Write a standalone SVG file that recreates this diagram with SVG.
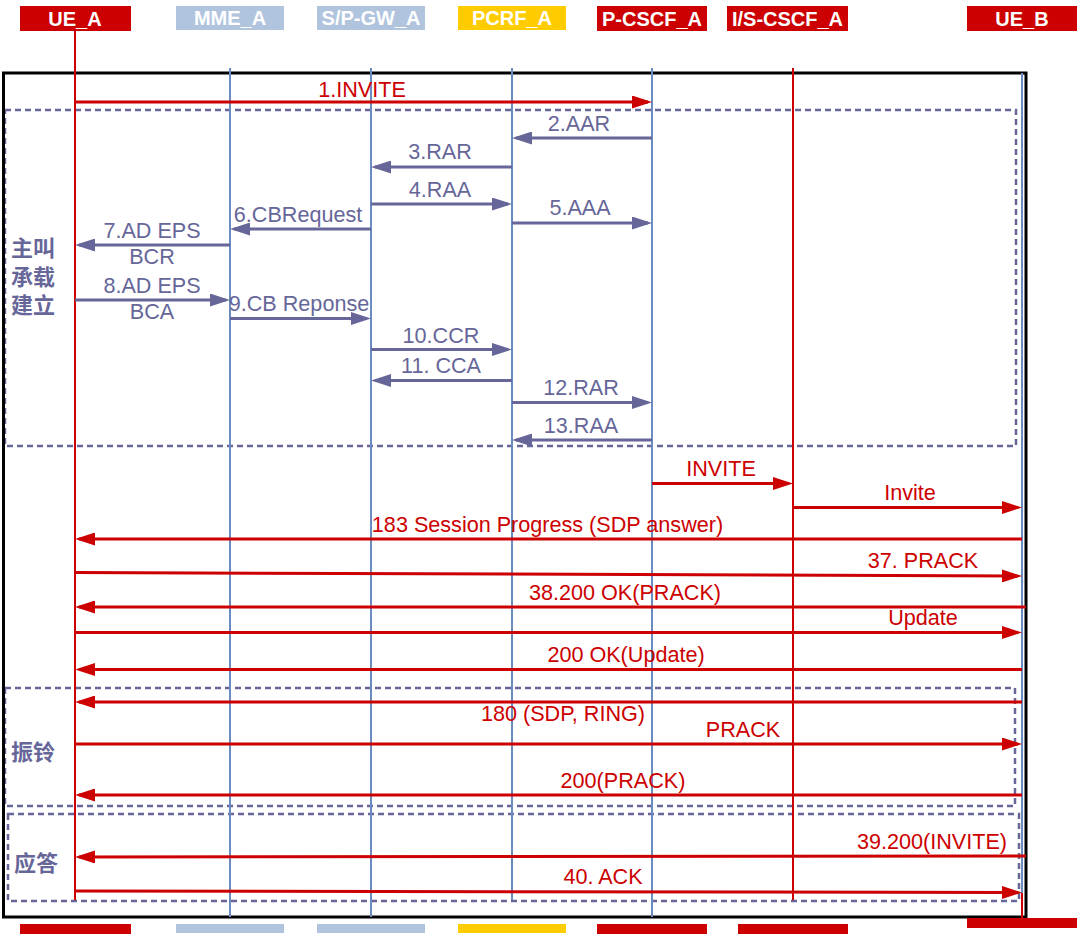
<svg xmlns="http://www.w3.org/2000/svg" width="1082" height="938" viewBox="0 0 1082 938">
<style>
.hdr{font-family:"Liberation Sans",Arial,sans-serif;font-size:20px;font-weight:bold;fill:#fff;text-anchor:middle}
.lbl{font-family:"Liberation Sans",Arial,sans-serif;font-size:21.6px;text-anchor:middle}
.r{fill:#CC0000}
.b{fill:#666699}
.cn{font-family:"Liberation Sans","Noto Sans CJK SC",sans-serif;font-size:22px;font-weight:bold;fill:#666699}
.ll{stroke:#6A8CC0;stroke-width:2;fill:none}
.llr{stroke:#CC0000;stroke-width:2;fill:none}
.ar{stroke:#CC0000;stroke-width:3;fill:none;marker-end:url(#ahR)}
.ab{stroke:#666699;stroke-width:3;fill:none;marker-end:url(#ahB)}
.dash{stroke:#666699;stroke-width:2.5;stroke-dasharray:6 4;fill:none}
</style>
<defs>
<marker id="ahR" markerUnits="userSpaceOnUse" markerWidth="20" markerHeight="13" refX="16" refY="6.5" orient="auto"><path d="M0,0 L20,6.5 L0,13 z" fill="#CC0000"/></marker>
<marker id="ahB" markerUnits="userSpaceOnUse" markerWidth="20" markerHeight="13" refX="16" refY="6.5" orient="auto"><path d="M0,0 L20,6.5 L0,13 z" fill="#666699"/></marker>
</defs>
<rect width="1082" height="938" fill="#fff"/>

<!-- phase boxes -->
<g id="phases">
<rect class="dash" x="5" y="110" width="1011" height="336"/>
<rect class="dash" x="5" y="688" width="1010" height="118"/>
<rect class="dash" x="8" y="814" width="1011" height="87"/>
</g>

<!-- frame -->
<rect x="3.5" y="73" width="1022.5" height="844" fill="none" stroke="#000" stroke-width="3"/>

<g id="node-ue-a">
<rect x="20" y="6" width="111" height="25" fill="#CC0000"/>
<text class="hdr" x="75" y="25.5">UE_A</text>
<line class="ll" x1="75" y1="68" x2="75" y2="95"/>
<line class="llr" x1="75" y1="31" x2="75" y2="900"/>
<rect x="20" y="924" width="111" height="10" fill="#CC0000"/>
</g>
<g id="node-mme-a">
<rect x="176" y="6" width="108" height="24" fill="#B0C4DE"/>
<text class="hdr" x="230" y="25">MME_A</text>
<line class="ll" x1="230" y1="68" x2="230" y2="917"/>
<rect x="176" y="924" width="108" height="9" fill="#B0C4DE"/>
</g>
<g id="node-spgw-a">
<rect x="317" y="6" width="108" height="24" fill="#B0C4DE"/>
<text class="hdr" x="371" y="25">S/P-GW_A</text>
<line class="ll" x1="371" y1="68" x2="371" y2="917"/>
<rect x="317" y="924" width="108" height="9" fill="#B0C4DE"/>
</g>
<g id="node-pcrf-a">
<rect x="458" y="6" width="108" height="24" fill="#FFCC00"/>
<text class="hdr" x="512" y="25">PCRF_A</text>
<line class="ll" x1="512" y1="68" x2="512" y2="900"/>
<rect x="458" y="924" width="108" height="9" fill="#FFCC00"/>
</g>
<g id="node-pcscf-a">
<rect x="597" y="6" width="110" height="25" fill="#CC0000"/>
<text class="hdr" x="652" y="25.5">P-CSCF_A</text>
<line class="ll" x1="652" y1="68" x2="652" y2="917"/>
<rect x="597" y="924" width="110" height="10" fill="#CC0000"/>
</g>
<g id="node-iscscf-a">
<rect x="727" y="6" width="121" height="25" fill="#CC0000"/>
<text class="hdr" x="787.5" y="25.5">I/S-CSCF_A</text>
<line class="llr" x1="793" y1="68" x2="793" y2="900"/>
<rect x="738" y="924" width="110" height="10" fill="#CC0000"/>
</g>
<g id="node-ue-b">
<rect x="967" y="6" width="110" height="25" fill="#CC0000"/>
<text class="hdr" x="1022" y="25.5">UE_B</text>
<line class="llr" x1="1022" y1="880" x2="1022" y2="918"/>
<line class="ll" x1="1022" y1="73" x2="1022" y2="893"/>
<rect x="967" y="918" width="110" height="10" fill="#CC0000"/>
</g>

<g id="phase-labels">
<text class="cn" x="11" y="256">主叫</text>
<text class="cn" x="11" y="285">承载</text>
<text class="cn" x="11" y="313">建立</text>
<text class="cn" x="11" y="760">振铃</text>
<text class="cn" x="14" y="871">应答</text>
</g>

<g id="connectors">
<line class="ar" x1="75" y1="102" x2="648" y2="102"/>
<line class="ab" x1="652" y1="138" x2="516" y2="138"/>
<line class="ab" x1="512" y1="167" x2="375" y2="167"/>
<line class="ab" x1="371" y1="204" x2="508" y2="204"/>
<line class="ab" x1="512" y1="223" x2="648" y2="223"/>
<line class="ab" x1="371" y1="229" x2="234" y2="229"/>
<line class="ab" x1="230" y1="245" x2="79" y2="245"/>
<line class="ab" x1="75" y1="300" x2="226" y2="300"/>
<line class="ab" x1="230" y1="318.5" x2="367" y2="318.5"/>
<line class="ab" x1="371" y1="349.5" x2="508" y2="349.5"/>
<line class="ab" x1="512" y1="380.5" x2="375" y2="380.5"/>
<line class="ab" x1="512" y1="402.5" x2="648" y2="402.5"/>
<line class="ab" x1="652" y1="440" x2="516" y2="440"/>
<line class="ar" x1="652" y1="483.5" x2="789" y2="483.5"/>
<line class="ar" x1="793" y1="507.5" x2="1018" y2="507.5"/>
<line class="ar" x1="1022" y1="539" x2="79" y2="539"/>
<line class="ar" x1="75" y1="572.5" x2="1018" y2="576"/>
<line class="ar" x1="1026" y1="607" x2="79" y2="607"/>
<line class="ar" x1="75" y1="632.5" x2="1018" y2="632.5"/>
<line class="ar" x1="1022" y1="669.5" x2="79" y2="669.5"/>
<line class="ar" x1="1022" y1="702" x2="79" y2="702"/>
<line class="ar" x1="75" y1="744" x2="1018" y2="744"/>
<line class="ar" x1="1022" y1="795" x2="79" y2="795"/>
<line class="ar" x1="1026" y1="856" x2="79" y2="857"/>
<line class="ar" x1="75" y1="891" x2="1018" y2="892.5"/>
</g>

<g id="labels">
<text class="lbl r" x="362" y="97">1.INVITE</text>
<text class="lbl b" x="579" y="131">2.AAR</text>
<text class="lbl b" x="440" y="159">3.RAR</text>
<text class="lbl b" x="440" y="197">4.RAA</text>
<text class="lbl b" x="580" y="215">5.AAA</text>
<text class="lbl b" x="298" y="222">6.CBRequest</text>
<text class="lbl b" x="152" y="237.5">7.AD EPS</text>
<text class="lbl b" x="152" y="264">BCR</text>
<text class="lbl b" x="152" y="293">8.AD EPS</text>
<text class="lbl b" x="152" y="319">BCA</text>
<text class="lbl b" x="299" y="311">9.CB Reponse</text>
<text class="lbl b" x="441" y="343">10.CCR</text>
<text class="lbl b" x="441" y="373">11. CCA</text>
<text class="lbl b" x="581" y="395">12.RAR</text>
<text class="lbl b" x="581" y="433">13.RAA</text>
<text class="lbl r" x="721" y="476">INVITE</text>
<text class="lbl r" x="910" y="500">Invite</text>
<text class="lbl r" x="547.5" y="532">183 Session Progress (SDP answer)</text>
<text class="lbl r" x="923" y="568">37. PRACK</text>
<text class="lbl r" x="625" y="600">38.200 OK(PRACK)</text>
<text class="lbl r" x="923" y="625">Update</text>
<text class="lbl r" x="626" y="662">200 OK(Update)</text>
<text class="lbl r" x="563" y="721">180 (SDP, RING)</text>
<text class="lbl r" x="743" y="737">PRACK</text>
<text class="lbl r" x="623" y="788">200(PRACK)</text>
<text class="lbl r" x="932" y="849">39.200(INVITE)</text>
<text class="lbl r" x="603" y="884">40. ACK</text>
</g>
</svg>
